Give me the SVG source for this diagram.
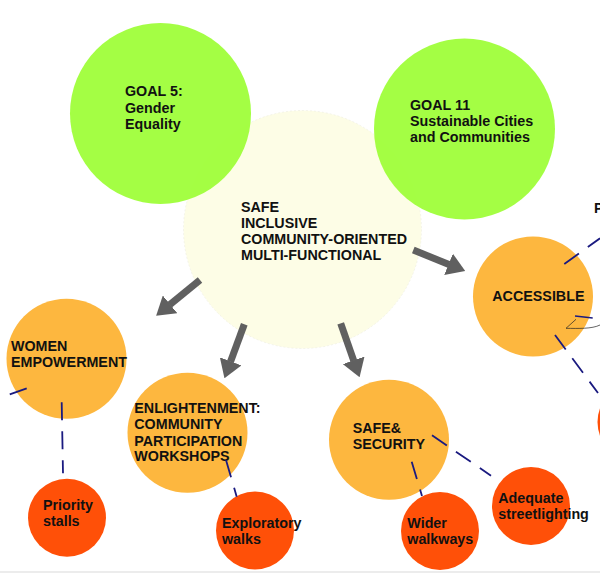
<svg xmlns="http://www.w3.org/2000/svg" width="600" height="573" viewBox="0 0 600 573">
<style>
text{font-family:"Liberation Sans",Arial,sans-serif;font-size:14.3px;font-weight:bold;fill:#111}
.core{fill:#fdfde6;stroke:#ecece0;stroke-width:.6;stroke-dasharray:2 2}
.goal{fill:#a0fe3c;fill-opacity:.96}
.aspect{fill:#fdb73f}
.item{fill:#ff5008}
.arrow{stroke:#606060;stroke-width:7;fill:none;marker-end:url(#head)}
.dash{stroke:#1a1a80;stroke-width:1.8;fill:none;stroke-dasharray:18 11}
</style>
<defs>
<marker id="head" markerUnits="userSpaceOnUse" markerWidth="18" markerHeight="23" viewBox="0 0 18 23" refX="0.5" refY="11.5" orient="auto"><polygon points="0,0 18,11.5 0,23" fill="#606060"/></marker>
</defs>
<rect width="600" height="573" fill="#fff"/>
<rect y="571" width="600" height="2" fill="#ececec"/>
<g id="node-core"><circle class="core" cx="302.5" cy="229.5" r="119"/><text x="241" y="212">SAFE</text><text x="241" y="228">INCLUSIVE</text><text x="241" y="244">COMMUNITY-ORIENTED</text><text x="241" y="260">MULTI-FUNCTIONAL</text></g>
<g id="node-goal5"><circle class="goal" cx="160.5" cy="113.5" r="90.5"/><text x="125" y="96">GOAL 5:</text><text x="125" y="113">Gender</text><text x="125" y="129">Equality</text></g>
<g id="node-goal11"><circle class="goal" cx="464.5" cy="129" r="90.5"/><text x="410" y="110">GOAL 11</text><text x="410" y="126">Sustainable Cities</text><text x="410" y="142">and Communities</text></g>
<g id="node-accessible"><circle class="aspect" cx="533" cy="296.5" r="60"/><text x="492.3" y="301">ACCESSIBLE</text></g>
<g id="node-women"><circle class="aspect" cx="66.5" cy="358.7" r="60"/><text x="11" y="351">WOMEN</text><text x="11" y="367">EMPOWERMENT</text></g>
<g id="node-enlightenment"><circle class="aspect" cx="187.5" cy="432.7" r="60"/><text x="134.3" y="413">ENLIGHTENMENT:</text><text x="134.3" y="429">COMMUNITY</text><text x="134.3" y="445.5">PARTICIPATION</text><text x="134.3" y="461.3">WORKSHOPS</text></g>
<g id="node-safety"><circle class="aspect" cx="389" cy="439.7" r="60"/><text x="352.7" y="433.3">SAFE&amp;</text><text x="352.7" y="449.3">SECURITY</text></g>
<g id="node-priority"><circle class="item" cx="67" cy="517.7" r="39"/><text x="43" y="510">Priority</text><text x="43" y="525.7">stalls</text></g>
<g id="node-exploratory"><circle class="item" cx="255" cy="530.5" r="39"/><text x="222" y="527.7">Exploratory</text><text x="222" y="544">walks</text></g>
<g id="node-wider"><circle class="item" cx="440" cy="531" r="39"/><text x="407.3" y="527.7">Wider</text><text x="407.3" y="544">walkways</text></g>
<g id="node-lighting"><circle class="item" cx="531" cy="506" r="39"/><text x="498.3" y="503.3">Adequate</text><text x="498.3" y="519.3">streetlighting</text></g>
<g id="node-offpage"><circle class="item" cx="636.5" cy="422" r="39"/></g>
<g id="node-p"><text x="594" y="212.7">P</text></g>
<g id="connectors">
<line class="arrow" x1="413.3" y1="250" x2="449" y2="264.5"/>
<line class="arrow" x1="200" y1="280" x2="169.7" y2="304.7"/>
<line class="arrow" x1="244.3" y1="324.3" x2="230.5" y2="361.8"/>
<line class="arrow" x1="340.7" y1="323.3" x2="353.8" y2="360.8"/>
<line class="dash" x1="564.3" y1="264" x2="600" y2="238.3"/>
<line class="dash" x1="555" y1="335" x2="598" y2="393"/>
<line class="dash" x1="61.7" y1="402.3" x2="63" y2="473.3"/>
<line class="dash" x1="26.7" y1="388.3" x2="9" y2="394.7"/>
<line class="dash" x1="226" y1="460" x2="236.7" y2="496.7"/>
<line class="dash" x1="411.7" y1="461.7" x2="422" y2="496"/>
<line class="dash" x1="432" y1="435.3" x2="491" y2="475.7"/>
<line x1="575" y1="316" x2="592.7" y2="318" stroke="#1a1a80" stroke-width="1.5"/>
<path d="M576 319.3L566 328.3C578 328.5 592 329 600 325" fill="none" stroke="#222" stroke-width=".7"/>
</g>
</svg>
